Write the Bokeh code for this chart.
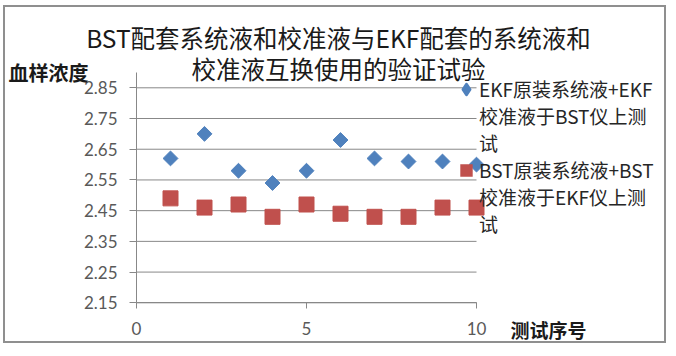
import math
from bokeh.plotting import figure
from bokeh.models import (Range1d, Label, Legend, LegendItem, FixedTicker,
                          NumeralTickFormatter)
from bokeh.embed import file_html
from bokeh.resources import INLINE

# ---------------- data ----------------
title_lines = ["BST配套系统液和校准液与EKF配套的系统液和", "校准液互换使用的验证试验"]
y_title = "血样浓度"
x_title = "测试序号"
test_no = [1, 2, 3, 4, 5, 6, 7, 8, 9, 10]
ekf_on_bst = [2.62, 2.70, 2.58, 2.54, 2.58, 2.68, 2.62, 2.61, 2.61, 2.60]
bst_on_ekf = [2.49, 2.46, 2.47, 2.43, 2.47, 2.44, 2.43, 2.43, 2.46, 2.46]
legend_ekf = ["EKF原装系统液+EKF", "校准液于BST仪上测", "试"]
legend_bst = ["BST原装系统液+BST", "校准液于EKF仪上测", "试"]
y_ticks = [2.15, 2.25, 2.35, 2.45, 2.55, 2.65, 2.75, 2.85]
x_ticks = [0, 5, 10]
y_axis_top = 2.9

# ---------------- layout (page pixels) ----------------
W, H = 663, 338
ORG_X, ORG_Y = 5, 7            # page position of the canvas origin
AX_X0 = 136                    # page x of x = 0
PX_X = 34.0                    # pixels per x unit
AX_Y0 = 302.3                  # page y of y = 2.15
PX_Y = 215.0 / 0.7             # pixels per y unit

x_start = -(AX_X0 - ORG_X) / PX_X
x_end = (ORG_X + W - AX_X0) / PX_X
y_start = y_ticks[0] - (ORG_Y + H - AX_Y0) / PX_Y
y_end = y_ticks[0] + (AX_Y0 - ORG_Y) / PX_Y


def dx(page_x):
    return (page_x - AX_X0) / PX_X


def dy(page_y):
    return y_ticks[0] + (AX_Y0 - page_y) / PX_Y


BLUE = "#4F81BD"
RED = "#C0504D"
GRID = "#888888"
CJK = "Noto Sans CJK SC"
NAN = float("nan")

p = figure(width=W, height=H, x_range=Range1d(x_start, x_end), y_range=Range1d(y_start, y_end),
           output_backend="svg", toolbar_location=None,
           min_border_left=0, min_border_right=0, min_border_top=0, min_border_bottom=0)
p.outline_line_color = None
p.background_fill_color = "white"
p.border_fill_color = "white"
p.styles = {"border": "2px solid #8f8f8f", "margin-left": "3px", "margin-top": "5px"}

p.xgrid.visible = False
p.ygrid.visible = False

# horizontal grid lines, spanning the x-axis extent
p.segment(x0=[x_ticks[0]] * len(y_ticks), x1=[x_ticks[-1]] * len(y_ticks),
          y0=y_ticks, y1=y_ticks, line_color=GRID, line_width=1)

# axes, pinned inside the frame
for ax in (p.xaxis[0], p.yaxis[0]):
    ax.axis_line_color = GRID
    ax.major_tick_line_color = GRID
    ax.minor_tick_line_color = None
    ax.major_tick_in = 0
    ax.major_label_text_font = "Lato"
    ax.major_label_text_font_size = "17px"
    ax.major_label_text_color = "#595959"

p.yaxis.ticker = FixedTicker(ticks=y_ticks)
p.yaxis.formatter = NumeralTickFormatter(format="0.00")
p.yaxis.major_tick_out = 7
p.yaxis.major_label_standoff = 12
p.yaxis.bounds = (y_ticks[0], y_axis_top)
p.yaxis.fixed_location = x_ticks[0]
p.xaxis.ticker = FixedTicker(ticks=x_ticks)
p.xaxis.bounds = (x_ticks[0], x_ticks[-1])
p.xaxis.major_tick_out = 6
p.xaxis.major_label_standoff = 13
p.xaxis.fixed_location = y_ticks[0]

# data
r_ekf = p.scatter(test_no, ekf_on_bst, marker="square", size=10.5, angle=math.pi / 4,
                  fill_color=BLUE, line_color=BLUE)
r_bst = p.scatter(test_no, bst_on_ekf, marker="square", size=15,
                  fill_color=RED, line_color=RED)
# legend swatches (proxies, not drawn in the plot)
k_ekf = p.scatter([NAN], [NAN], marker="diamond", fill_color=BLUE, line_color=BLUE,
                  line_width=3, line_join="round")
k_bst = p.scatter([NAN], [NAN], marker="square", fill_color=RED, line_color=RED,
                  line_width=2, line_join="miter")
r_blank = p.scatter([NAN], [NAN], marker="square", size=1, fill_alpha=0, line_alpha=0)

items = [LegendItem(label=legend_ekf[0], renderers=[k_ekf]),
         LegendItem(label=legend_ekf[1], renderers=[r_blank]),
         LegendItem(label=legend_ekf[2], renderers=[r_blank]),
         LegendItem(label=legend_bst[0], renderers=[k_bst]),
         LegendItem(label=legend_bst[1], renderers=[r_blank]),
         LegendItem(label=legend_bst[2], renderers=[r_blank])]
LEG_LEFT, LEG_BOTTOM = 453, 237   # page px
legend = Legend(items=items, location=(LEG_LEFT - ORG_X, ORG_Y + H - LEG_BOTTOM),
                padding=0, margin=0, spacing=0,
                glyph_width=26, glyph_height=26, label_height=26, label_standoff=0,
                label_text_font=CJK, label_text_font_size="19px", label_text_color="#262626",
                background_fill_alpha=0, border_line_alpha=0)
p.add_layout(legend, "center")

# titles
for line, py in zip(title_lines, [37, 68]):
    p.add_layout(Label(x=dx(338), y=dy(py), text=line, text_align="center",
                       text_baseline="middle", text_font=CJK, text_font_size="24.5px",
                       text_color="#1a1a1a"))
p.add_layout(Label(x=dx(8), y=dy(72), text=y_title, text_align="left",
                   text_baseline="middle", text_font=CJK, text_font_size="20px",
                   text_font_style="bold", text_color="#1a1a1a"))
p.add_layout(Label(x=dx(510), y=dy(329), text=x_title, text_align="left",
                   text_baseline="middle", text_font=CJK, text_font_size="19px",
                   text_font_style="bold", text_color="#1a1a1a"))

open("out.html", "w").write(file_html(p, INLINE))
